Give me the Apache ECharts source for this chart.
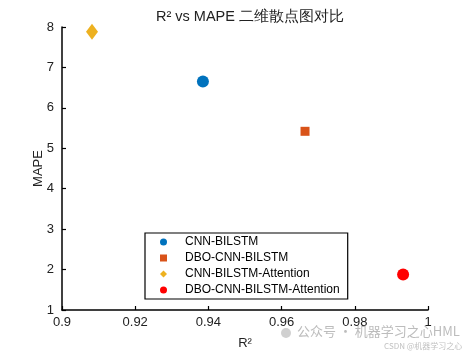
<!DOCTYPE html>
<html>
<head>
<meta charset="utf-8">
<script src="https://cdn.jsdelivr.net/npm/echarts@6/dist/echarts.min.js"></script>
<style>
  html, body { margin: 0; padding: 0; background: #fff; }
  #chart { width: 474px; height: 355px; }
</style>
</head>
<body>
<div id="chart"></div>
<script>
// models and their (R², MAPE) scores
var models = ['CNN-BILSTM', 'DBO-CNN-BILSTM', 'CNN-BILSTM-Attention', 'DBO-CNN-BILSTM-Attention']
var r2 = [0.9385, 0.9664, 0.9082, 0.9932]
var mape = [6.65, 5.42, 7.88, 1.88]
var colors = ['#0072BD', '#D95319', '#EDB120', '#FF0000']
var symbols = ['circle', 'rect', 'diamond', 'circle']
var symbolSizes = [[12, 12], [9, 9], [12, 16], [12, 12]]

var font = 'Liberation Sans, Arial, sans-serif'

var series = models.map(function (name, i) {
  return {
    name: name,
    type: 'scatter',
    symbol: symbols[i],
    symbolSize: symbolSizes[i],
    itemStyle: { color: colors[i], opacity: 1 },
    data: [[r2[i], mape[i]]]
  }
})

var chart = echarts.init(document.getElementById('chart'))
chart.setOption({
  animation: false,
  textStyle: { fontFamily: font },
  title: {
    text: 'R² vs MAPE 二维散点图对比',
    left: 245,
    textAlign: 'center',
    top: 4,
    textStyle: { fontSize: 14.5, fontWeight: 'normal', color: '#222', fontFamily: font }
  },
  grid: { left: 62, right: 46, top: 27, bottom: 42 },
  xAxis: {
    type: 'value',
    min: 0.9,
    max: 1,
    interval: 0.02,
    name: 'R²',
    nameLocation: 'middle',
    nameGap: 27,
    nameTextStyle: { fontSize: 13, color: '#222' },
    axisLine: { lineStyle: { color: '#000', width: 1.5 } },
    axisTick: { inside: true, length: 4, lineStyle: { color: '#000', width: 1.2 } },
    axisLabel: { fontSize: 13, color: '#222', margin: 6,
      formatter: function (v) { return +v.toFixed(2) + '' } },
    splitLine: { show: false }
  },
  yAxis: {
    type: 'value',
    min: 1,
    max: 8,
    interval: 1,
    name: 'MAPE',
    nameLocation: 'middle',
    nameGap: 17,
    nameMoveOverlap: false,
    nameTextStyle: { fontSize: 13, color: '#222' },
    axisLine: { show: true, lineStyle: { color: '#000', width: 1.5 } },
    axisTick: { show: true, inside: true, length: 4, lineStyle: { color: '#000', width: 1.2 } },
    axisLabel: { fontSize: 13, color: '#222', margin: 8 },
    splitLine: { show: false }
  },
  legend: {
    orient: 'vertical',
    left: 145,
    top: 233,
    itemWidth: 7,
    itemHeight: 7,
    itemGap: 4,
    padding: [3, 8, 3, 15],
    borderColor: '#000',
    borderWidth: 1.2,
    textStyle: { fontSize: 12, color: '#000', padding: [0, 0, 0, 13] },
    data: models
  },
  graphic: [
    {
      type: 'text',
      left: 297,
      top: 325,
      style: { text: '公众号 · 机器学习之心HML', fontSize: 13, fill: 'rgba(160,160,160,0.7)', fontFamily: 'Noto Sans CJK SC' }
    },
    {
      type: 'circle',
      shape: { cx: 286, cy: 333, r: 5 },
      style: { fill: 'rgba(170,170,170,0.55)' }
    },
    {
      type: 'text',
      left: 384,
      top: 342,
      style: { text: 'CSDN @机器学习之心', fontSize: 8, fill: 'rgba(160,160,160,0.65)', fontFamily: 'Noto Sans CJK SC' }
    }
  ],
  series: series
})
</script>
</body>
</html>
